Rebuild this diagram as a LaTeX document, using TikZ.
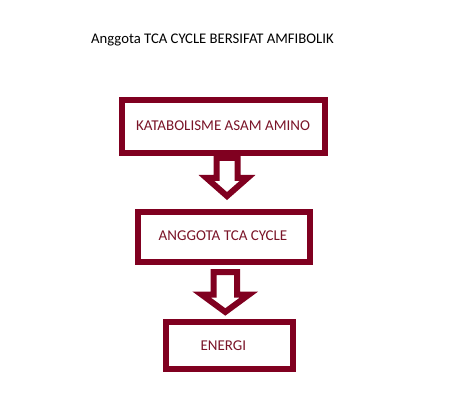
\documentclass[tikz,border=0pt]{standalone}
\usepackage{fontspec}
\setmainfont{Carlito}
\usetikzlibrary{calc}
\definecolor{maroon}{RGB}{128,0,32}
\definecolor{boxtext}{RGB}{122,20,40}
\tikzset{
  flowbox/.style={draw=maroon, line width=6pt, minimum width=#1, inner sep=0pt, outer sep=0pt},
  boxlabel/.style={text=boxtext, font=\fontsize{15}{17}\selectfont, inner sep=0pt},
  blockarrow/.style={draw=maroon, line width=6pt, line join=miter, fill=white},
}
\begin{document}
\begin{tikzpicture}[x=1pt,y=-1pt]
\useasboundingbox (0,0) rectangle (451,417);
\node[font=\fontsize{14.7}{17}\selectfont, inner sep=0pt, anchor=base west] (title) at (91,43.3) {Anggota TCA CYCLE BERSIFAT AMFIBOLIK};
\node[flowbox=202.7pt, minimum height=53pt] (b1) at (223.6,126.5) {};
\node[flowbox=172pt, minimum height=49.5pt] (b2) at (224,236.8) {};
\node[flowbox=126.7pt, minimum height=46.7pt] (b3) at (229.7,345.3) {};
\node[boxlabel, anchor=base] (t1) at (223,131) {KATABOLISME ASAM AMINO};
\node[boxlabel, anchor=base] (t2) at (223,241) {ANGGOTA TCA CYCLE};
\node[boxlabel, anchor=base] (t3) at (223.3,351) {ENERGI};
% block arrows from box to box
\draw[blockarrow]
  ($(b1.south)+(3.4,5)$) coordinate (a1s)
  -- ++(-10.5,0) -- ++(0,20) -- ++(-10,0) -- ($(b2.north)+(3,-16)$) coordinate (a1t)
  -- ($(a1s)+(20.5,20)$) -- ++(-10,0) -- ++(0,-20) -- cycle;
\draw[blockarrow]
  ($(b2.south)+(1.3,10.5)$) coordinate (a2s)
  -- ++(-11.7,0) -- ++(0,22.5) -- ++(-12,0) -- ($(b3.north)+(-4.4,-10)$) coordinate (a2t)
  -- ($(a2s)+(23.7,22.5)$) -- ++(-12,0) -- ++(0,-22.5) -- cycle;
\end{tikzpicture}
\end{document}
